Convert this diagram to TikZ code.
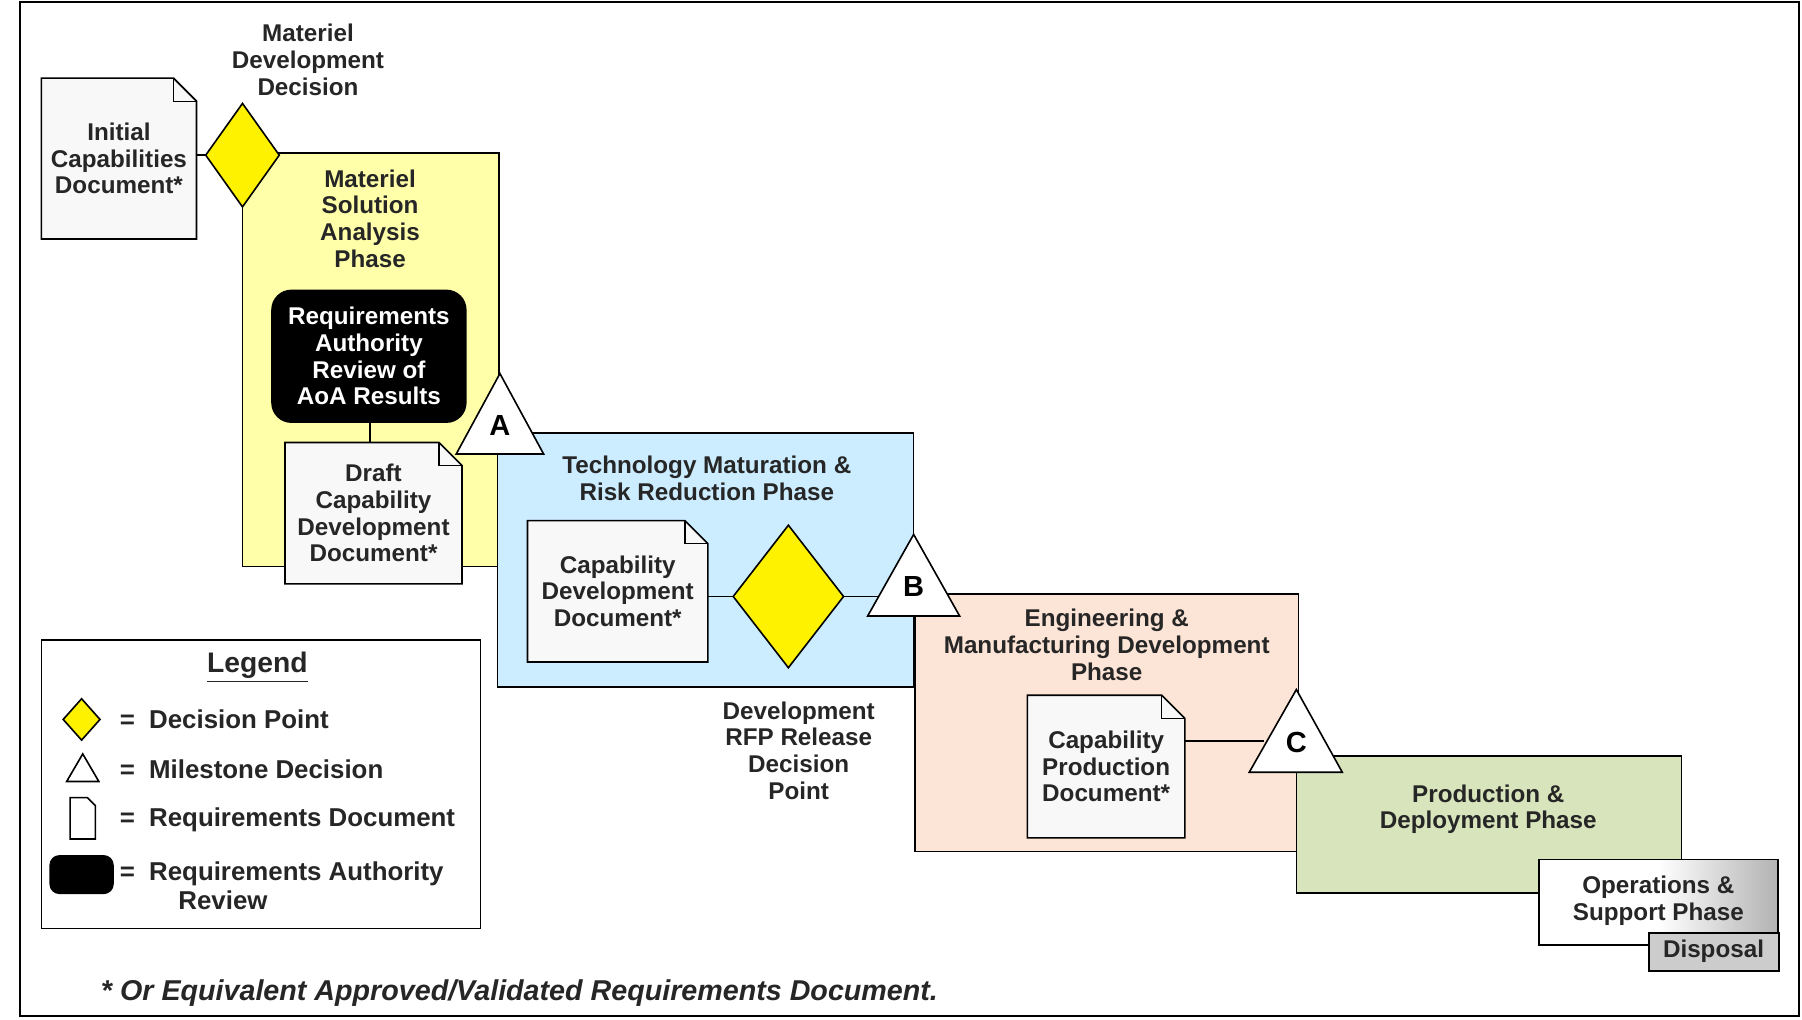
\documentclass[tikz,border=0pt]{standalone}
\usepackage{fontspec}
\setmainfont{Liberation Sans}
\usetikzlibrary{calc}
\definecolor{msa}{RGB}{255,255,170}
\definecolor{tmrr}{RGB}{204,236,255}
\definecolor{emd}{RGB}{252,228,214}
\definecolor{pd}{RGB}{216,228,188}
\definecolor{docfill}{RGB}{248,248,248}
\tikzset{
  txt/.style={font=\bfseries\fontsize{12}{13.2}\selectfont, align=center, text=black!85},
  leg/.style={txt, anchor=west, font=\bfseries\fontsize{12.8}{14}\selectfont},
  phase/.style={draw, line width=0.8pt},
  shape line/.style={line width=0.8pt},
  conn/.style={line width=0.8pt}
}
% document shape: corners lower-left, upper-right
\newcommand{\reqdoc}[3]{%
  \draw[shape line, fill=docfill] (#1) -- (#1 |- #2) -- ($(#2)+(-20,0)$) -- ($(#2)+(0,20)$) -- (#2 |- #1) -- cycle;
  \draw[line width=0.6pt] ($(#2)+(-20,0)$) -- ($(#2)+(-20,20)$) -- ($(#2)+(0,20)$);
  \coordinate (#3) at ($(#1)!0.5!(#2)$);}
\begin{document}
\begin{tikzpicture}[x=0.02cm, y=-0.02cm]
\useasboundingbox (0,0) rectangle (1568,887);
\draw[line width=1pt] (17,2) rectangle (1565,884);

% phases
\draw[phase, fill=msa] (211,133) rectangle (434,493);
\draw[phase, fill=tmrr] (433,377) rectangle (795,598);
\draw[phase, fill=emd] (796,517) rectangle (1130,741);
\draw[phase, fill=pd] (1128,658) rectangle (1463,777);
\shade[left color=white, right color=black!30, middle color=white] (1339,748) rectangle (1547,822);
\draw[phase] (1339,748) rectangle (1547,822);
\draw[phase, fill=black!20] (1435,812) rectangle (1548,845);

\node[txt] (msat) at (322,190) {Materiel\\Solution\\Analysis\\Phase};
\node[txt] (tmrrt) at (615,416) {Technology Maturation \&\\Risk Reduction Phase};
\node[txt] (emdt) at (963,561) {Engineering \&\\Manufacturing Development\\Phase};
\node[txt] (pdt) at (1295,704) {Production \&\\Deployment Phase};
\node[txt] (ost) at (1443,784) {Operations \&\\Support Phase};
\node[txt] (disp) at (1491,828) {Disposal};

% initial capabilities document
\reqdoc{36,208}{171,68}{icd}
\node[txt] at (icd) {Initial\\Capabilities\\Document*};
\coordinate (icdr) at (171,135);
\coordinate (mddl) at (179,135);
\draw[conn] (icdr) -- (mddl);
\draw[shape line, fill=yellow] (179,135) -- (211,90) -- (243,135) -- (211,180) -- cycle;
\node[txt] (mddt) at (268,52) {Materiel\\Development\\Decision};

% review
\fill[black, rounded corners=10pt] (236,252) rectangle (406,368);
\node[txt, text=white] (rart) at (321,310) {Requirements\\Authority\\Review of\\AoA Results};
\coordinate (rarb) at (322,368);
\coordinate (dcddt) at (322,386);
\draw[conn] (rarb) -- (dcddt);
\reqdoc{248,508}{402,385}{dcdd}
\node[txt] at (dcdd) {Draft\\Capability\\Development\\Document*};

% milestone A
\draw[shape line, fill=white] (397,395) -- (435,325) -- (473,395) -- cycle;
\node[font=\bfseries\Large] (ma) at (435,370) {A};

% TMRR
\reqdoc{459,576}{616,453}{cdd}
\node[txt] at (cdd) {Capability\\Development\\Document*};
\coordinate (cddr) at (616,519);
\coordinate (rfpl) at (638,519);
\draw[conn] (cddr) -- (rfpl);
\coordinate (rfpr) at (734,519);
\coordinate (mbl) at (765,519);
\draw[conn] (rfpr) -- (mbl);
\draw[shape line, fill=yellow] (638,519) -- (686,457) -- (734,519) -- (686,581) -- cycle;
\node[txt] (rfpt) at (695,653) {Development\\RFP Release\\Decision\\Point};
\draw[shape line, fill=white] (755,536) -- (795,465) -- (835,536) -- cycle;
\node[font=\bfseries\Large] (mb) at (795,510) {B};

% EMD
\reqdoc{894,729}{1031,605}{cpd}
\node[txt] at (cpd) {Capability\\Production\\Document*};
\coordinate (cpdr) at (1031,645);
\coordinate (mcl) at (1100,645);
\draw[conn] (cpdr) -- (mcl);
\draw[shape line, fill=white] (1087,672) -- (1128,600) -- (1168,672) -- cycle;
\node[font=\bfseries\Large] (mc) at (1128,646) {C};

% legend
\draw[shape line] (36,557) rectangle (418,808);
\node[txt, font=\bfseries\fontsize{14}{16}\selectfont] (lt) at (224,581) {\underline{Legend}};
\draw[shape line, fill=yellow] (55,626) -- (71,608) -- (87,626) -- (71,644) -- cycle;
\node[leg] (l1) at (98,626) {= \ Decision Point};
\draw[shape line, fill=white] (58,680) -- (72,656) -- (86,680) -- cycle;
\node[leg] (l2) at (98,669) {= \ Milestone Decision};
\draw[shape line, fill=white] (61,730) -- (61,694) -- (76,694) -- (83,701) -- (83,730) -- cycle;
\node[leg] (l3) at (98,713) {= \ Requirements Document};
\fill[black, rounded corners=5pt] (43,744) rectangle (99,778);
\node[leg] (l4) at (98,760) {= \ Requirements Authority};
\node[txt, font=\bfseries\fontsize{12.8}{14}\selectfont] (l4b) at (194,783) {Review};

% footnote
\node[txt, font=\bfseries\itshape\fontsize{14.2}{16}\selectfont] (fn) at (452,864) {* Or Equivalent Approved/Validated Requirements Document.};
\end{tikzpicture}
\end{document}
